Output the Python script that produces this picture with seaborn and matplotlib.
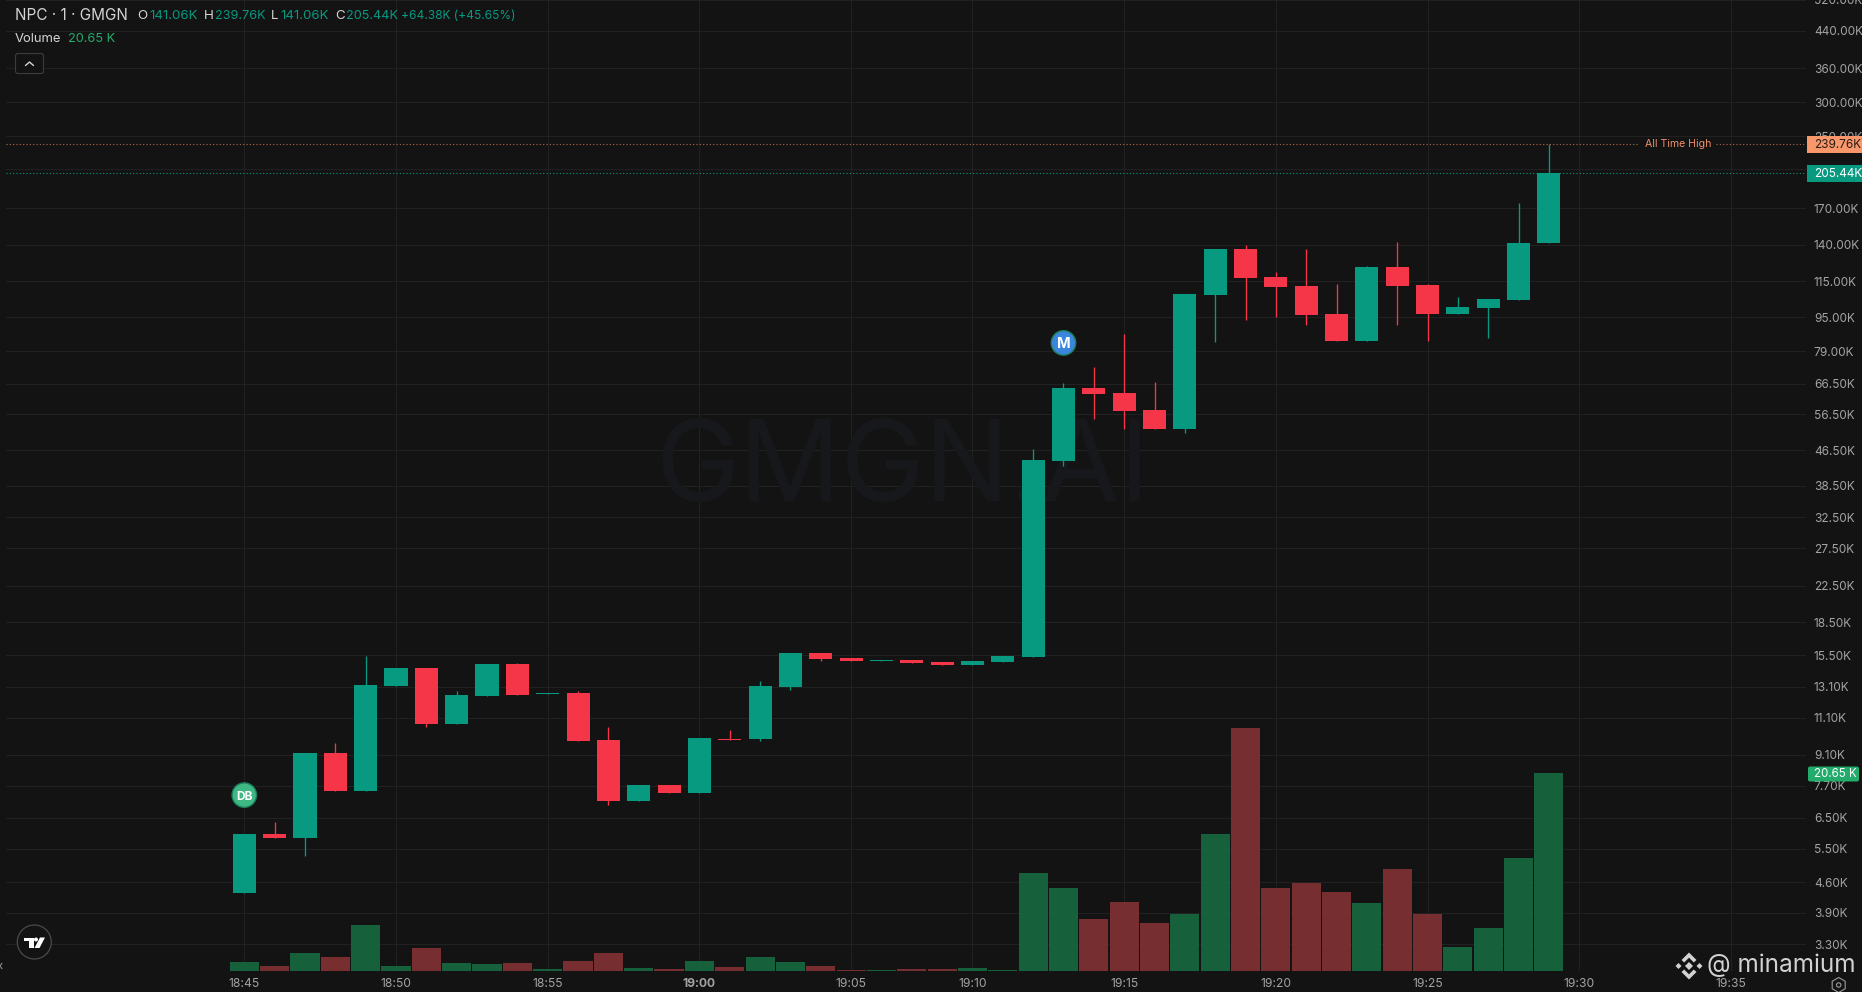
import matplotlib
matplotlib.use('Agg')
import matplotlib.pyplot as plt
import pandas as pd
import seaborn as sns
from matplotlib.lines import Line2D
from matplotlib.patches import Circle, FancyBboxPatch, Polygon, Rectangle, RegularPolygon
from matplotlib.ticker import NullLocator
from matplotlib.transforms import Affine2D

# Candle values, in thousands
opens = [4.33, 5.95, 5.82, 9.18, 7.49, 13.14, 14.47, 10.72, 12.46, 14.79, 12.62, 12.66, 9.84, 7.10, 7.73, 7.41,
         9.92, 9.89, 13.07, 15.69, 15.27, 15.06, 15.11, 14.95, 14.71, 14.95, 15.35, 43.9, 64.9, 63.2, 57.7, 52.1,
         106.8, 136.7, 117.7, 112.1, 96.5, 83.5, 124.1, 112.7, 96.5, 99.7, 104.0, 141.06]
highs = [5.95, 6.34, 9.18, 9.68, 15.43, 14.47, 14.47, 12.80, 14.79, 14.88, 12.70, 12.80, 10.55, 7.73, 7.73, 9.95,
         10.38, 13.50, 15.69, 15.69, 15.27, 15.11, 15.11, 14.95, 15.03, 15.43, 46.8, 66.7, 72.6, 86.7, 67.0, 107.4,
         136.7, 139.7, 120.9, 136.7, 113.3, 124.8, 141.9, 113.3, 105.7, 104.6, 174.9, 239.76]
lows = [4.33, 5.82, 5.28, 7.49, 7.49, 13.14, 10.55, 10.72, 12.46, 12.52, 12.62, 9.79, 6.95, 7.10, 7.41, 7.41,
        9.87, 9.79, 12.86, 15.03, 15.03, 15.06, 14.88, 14.71, 14.71, 14.95, 15.35, 42.7, 55.0, 52.1, 52.1, 51.0,
        83.1, 93.5, 95.0, 91.0, 83.5, 83.5, 91.0, 83.5, 96.5, 84.8, 104.0, 141.06]
closes = [5.95, 5.82, 9.18, 7.49, 13.22, 14.47, 10.72, 12.52, 14.79, 12.52, 12.70, 9.79, 7.10, 7.73, 7.41, 9.95,
          9.87, 13.14, 15.69, 15.18, 15.03, 15.11, 14.88, 14.71, 15.03, 15.43, 44.1, 64.9, 62.8, 57.4, 52.1, 107.4,
          136.7, 117.0, 111.5, 96.0, 83.5, 124.1, 112.1, 96.5, 100.2, 104.6, 141.06, 205.44]
volumes = [0.94, 0.52, 1.88, 1.46, 4.80, 0.52, 2.40, 0.83, 0.73, 0.83, 0.21, 1.04, 1.88, 0.31, 0.21, 1.04,
           0.42, 1.46, 0.94, 0.52, 0.10, 0.10, 0.21, 0.21, 0.31, 0.10, 10.22, 8.66, 5.42, 7.20, 5.01, 5.94,
           14.29, 25.34, 8.66, 9.18, 8.24, 7.09, 10.64, 5.94, 2.50, 4.49, 11.79, 20.65]

# Axis ticks (one minute has no bar, so 19:10 comes after four bars)
price_ticks = [520, 440, 360, 300, 250, 210, 170, 140, 115, 95, 79, 66.5, 56.5, 46.5, 38.5, 32.5, 27.5, 22.5,
               18.5, 15.5, 13.1, 11.1, 9.1, 7.7, 6.5, 5.5, 4.6, 3.9, 3.3]
time_ticks = [0, 5, 10, 15, 20, 24, 29, 34, 39, 44, 49]
time_labels = ['18:45', '18:50', '18:55', '19:00', '19:05', '19:10', '19:15', '19:20', '19:25', '19:30', '19:35']

# Event badges
badge_idx = [0, 27]
badge_price = [7.33, 82.7]
badge_text = ['DB', 'M']
badge_size = [8.6, 10.5]

last_high = 239.76
last_close = 205.44

W, H = 1862, 992
BG = '#131313'
GRID = '#212121'
UP = '#089981'
DOWN = '#F53649'
VOL_UP = '#18653F'
VOL_DOWN = '#7C3033'
TEXT = '#A3A3A3'
LIGHT = '#D4D4D4'
FONT = 'Inter'

sns.set_theme(style='dark', rc={'figure.facecolor': BG, 'axes.facecolor': BG, 'savefig.facecolor': BG})
plt.rcParams['font.family'] = [FONT, 'DejaVu Sans']

df = pd.DataFrame({'i': range(len(opens)), 'open': opens, 'high': highs, 'low': lows, 'close': closes,
                   'volume': volumes})
df['dir'] = ['up' if c >= o else 'down' for o, c in zip(opens, closes)]
df['bottom'] = df[['open', 'close']].min(axis=1)
df['body'] = (df['close'] - df['open']).abs()

fig = plt.figure(figsize=(W / 100, H / 100), dpi=100)
# plot area runs from x=6 to x=1806, bars sit on y=971
ax = fig.add_axes([6 / W, 1 - 971 / H, 1800 / W, 972 / H])
ax.set_yscale('log')
ax_vol = ax.twinx()
ax_vol.patch.set_visible(False)

# 1. Volume
sns.barplot(data=df, x='i', y='volume', hue='dir', palette={'up': VOL_UP, 'down': VOL_DOWN}, dodge=False,
            native_scale=True, width=0.96, saturation=1, legend=False, errorbar=None, linewidth=0, alpha=0.95,
            ax=ax_vol)
ax_vol.set_ylim(0, 101.37)
ax_vol.set_yticks([])
ax_vol.set_ylabel('')
ax_vol.set_xlabel('')

# 2. Candles
for name, color in [('up', UP), ('down', DOWN)]:
    part = df[df['dir'] == name]
    ax.vlines(part['i'], part['low'], part['high'], colors=color, linewidth=0.95, zorder=2)
    sns.barplot(data=part, x='i', y='body', bottom=part['bottom'].to_numpy(), color=color, native_scale=True,
                width=0.76, saturation=1, errorbar=None, linewidth=0, zorder=3, ax=ax)

# 3. Axes
ax.set_ylim(2.856, 522.3)
ax.set_xlim(-7.854, 51.473)
ax.yaxis.tick_right()
ax.set_yticks(price_ticks, [f'{t:.2f}K' for t in price_ticks])
ax.yaxis.set_minor_locator(NullLocator())
ax.set_xticks(time_ticks, time_labels)
ax.set_xlabel('')
ax.set_ylabel('')
ax.tick_params(axis='y', length=0, pad=5.6, labelsize=8.55, labelcolor=TEXT)
ax.tick_params(axis='x', length=0, pad=5.2, labelsize=8.7, labelcolor=TEXT)
ax.get_xticklabels()[3].set_fontweight('bold')
ax.grid(True, color=GRID, linewidth=0.8)
ax.set_axisbelow(True)
for a in (ax, ax_vol):
    for side in a.spines:
        a.spines[side].set_visible(False)
ax_vol.tick_params(axis='x', length=0, labelbottom=False)

# Price lines
ax.axhline(last_high, xmin=0, xmax=(1639 - 6) / 1800, color='#B5694A', linewidth=0.8, linestyle=(0, (1, 2)), zorder=2)
ax.axhline(last_high, xmin=(1716 - 6) / 1800, xmax=(1804 - 6) / 1800, color='#B5694A', linewidth=0.8,
           linestyle=(0, (1, 2)), zorder=2)
ax.axhline(last_close, xmin=0, xmax=(1804 - 6) / 1800, color=UP, linewidth=0.8, linestyle=(0, (1, 2)), zorder=2)
ax.text((1678 - 6) / 1800, last_high, 'All Time High', transform=ax.get_yaxis_transform(), color='#EE8F68',
        fontsize=7.6, ha='center', va='center')

# Badges
ax_badges = pd.DataFrame({'i': badge_idx, 'p': badge_price, 't': badge_text})
sns.scatterplot(data=ax_badges, x='i', y='p', hue='t', palette={'DB': '#3FB883', 'M': '#3A86DC'}, s=310,
                edgecolor='#1C7F5B', linewidth=1, legend=False, zorder=5, ax=ax)
ax.set_xlabel('')
ax.set_ylabel('')
for i, p, t, s in zip(badge_idx, badge_price, badge_text, badge_size):
    ax.text(i, p, t, color='white', fontsize=s, fontweight='bold', ha='center', va='center_baseline', zorder=6)

# Faint watermark
ax.text((903 - 6) / 1800, 1 - (472 + 1) / 972, 'GMGN.AI', transform=ax.transAxes, fontsize=81, color='#16181B',
        ha='center', va='center', zorder=1)

# Everything around the plot is placed in figure pixels, y going down
px = Affine2D().scale(1, -1).translate(0, H)


def put_text(x, y, s, color=TEXT, size=8.7, ha='left', **kw):
    fig.text(x, y, s, transform=px, color=color, fontsize=size, ha=ha, va='center', zorder=12, **kw)


def add(artist, z=11):
    artist.set_transform(px)
    artist.set_zorder(z)
    fig.add_artist(artist)


def price_tag(value, label, bg, fg, x1=1862):
    y = H - ax.transData.transform((0, value))[1]
    add(Rectangle((1807, y - 8.5), x1 - 1807, 17, facecolor=bg, linewidth=0))
    put_text(1814, y + 0.5, label, color=fg, size=8.5)


fig.canvas.draw()
price_tag(last_high, '239.76K', '#F7976A', '#2A1D16')
price_tag(last_close, '205.44K', UP, 'white')
y_vol = 773.5
add(FancyBboxPatch((1808, y_vol - 7), 51, 15, boxstyle='round,pad=0,rounding_size=2', facecolor='#22AB6A', linewidth=0,
                   mutation_aspect=1))
put_text(1814, y_vol + 0.5, '20.65 K', color='white', size=8.3)

# Header
put_text(15, 16, 'NPC · 1 · GMGN', color=LIGHT, size=11)
for lab, x_lab, val, x_val, s in [('O', 137.5, '141.06K', 149, 9.6), ('H', 204, '239.76K', 214.5, 9.1),
                                  ('L', 271, '141.06K', 280, 9.6), ('C', 335, '205.44K', 346, 9.1)]:
    put_text(x_lab, 16, lab, color=LIGHT, size=9.6)
    put_text(x_val, 16, val, color=UP, size=s)
put_text(401, 16, '+64.38K (+45.65%)', color=UP, size=8.6)
put_text(15, 39.5, 'Volume', color=LIGHT, size=9.4)
put_text(68, 39.5, '20.65 K', color='#22AB6A', size=9.2)

# Collapse button
add(FancyBboxPatch((15.5, 53.5), 28, 20, boxstyle='round,pad=0,rounding_size=2.5', facecolor=BG, edgecolor='#3C3C3C',
                   linewidth=0.8))
add(Line2D([25.5, 29.5, 33.5], [65.5, 62, 65.5], color=LIGHT, linewidth=1))

# TradingView mark
add(Circle((34.3, 942), 17, facecolor=BG, edgecolor='#4A4A4A', linewidth=0.9))
add(Polygon([(24, 937.5), (33.5, 937.5), (33.5, 948), (28.5, 948), (28.5, 941), (24, 941)], facecolor='white',
            linewidth=0))
add(Circle((36, 939.5), 2, facecolor='white', linewidth=0))
add(Polygon([(40, 937.5), (45, 937.5), (39.5, 948), (34.5, 948)], facecolor='white', linewidth=0))
put_text(-3, 966, 'x', color=TEXT, size=8)

# Author mark, bottom right
mark = '#D2D2D2'
cx, cy = 1689, 966
add(RegularPolygon((cx, cy), 4, radius=4, facecolor=mark, linewidth=0))
add(RegularPolygon((cx - 10.5, cy), 4, radius=3, facecolor=mark, linewidth=0))
add(RegularPolygon((cx + 10.5, cy), 4, radius=3, facecolor=mark, linewidth=0))
add(Polygon([(cx, cy - 13.5), (cx + 7.5, cy - 6), (cx + 4.8, cy - 3.5), (cx, cy - 8.3), (cx - 4.8, cy - 3.5),
             (cx - 7.5, cy - 6)], facecolor=mark, linewidth=0))
add(Polygon([(cx, cy + 13.5), (cx + 7.5, cy + 6), (cx + 4.8, cy + 3.5), (cx, cy + 8.3), (cx - 4.8, cy + 3.5),
             (cx - 7.5, cy + 6)], facecolor=mark, linewidth=0))
put_text(1707, 965, '@ minamium', color=mark, size=17.5)

# Settings icon
add(RegularPolygon((1838.7, 985), 6, radius=7.5, facecolor=BG, edgecolor='#9A9A9A', linewidth=0.8))
add(Circle((1838.7, 985), 2.2, facecolor=BG, edgecolor='#9A9A9A', linewidth=0.8))

fig.savefig('out.png', dpi=100)
